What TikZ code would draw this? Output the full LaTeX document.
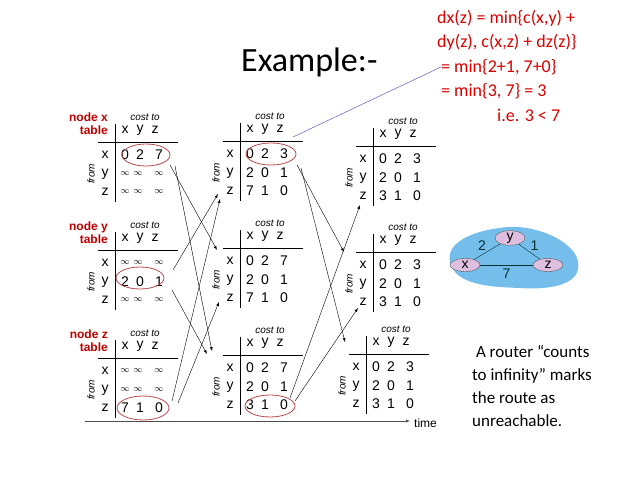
\documentclass[tikz,border=0pt]{standalone}
\usepackage{fontspec}
\usetikzlibrary{shapes.geometric}
\setmainfont{Liberation Sans}
\newfontfamily\calfnt{Carlito}
\begin{document}
\begin{tikzpicture}[x=1pt,y=-1pt,
  lbl/.style={font=\fontsize{14}{14}\selectfont,inner sep=0pt},
  inf/.style={font=\fontsize{9}{9}\selectfont,inner sep=0pt},
  costto/.style={font=\fontsize{10}{10}\selectfont\itshape,inner sep=0pt},
  fromlbl/.style={font=\fontsize{10}{10}\selectfont\itshape,inner sep=0pt,rotate=90},
  nodelbl/.style={font=\fontsize{12}{13}\selectfont\bfseries,text=red!75!black,align=right,inner sep=0pt,anchor=east},
  hl/.style={draw=red!60!black!70,thick},
  arr/.style={-latex,thin},
  red text/.style={font=\calfnt\fontsize{18}{18}\selectfont,text=red!85!black,inner sep=0pt,anchor=west},
  router/.style={ellipse,draw=gray!70!black,fill=violet!25,minimum width=30pt,minimum height=13pt,inner sep=0pt,font=\fontsize{14}{14}\selectfont},
]
\useasboundingbox (0,0) rectangle (638,478);
\newcommand{\tbl}[5]{%
  \begin{scope}[shift={(#1,#2)}]
    \node[costto] at (30,-3) {cost to};
    \node[lbl] at (10,10) {x}; \node[lbl] at (25,10) {y}; \node[lbl] at (40,10) {z};
    \draw (-17,22) -- (63,22); \draw (0,4) -- (0,82);
    \node[lbl] at (-10,35) {x}; \node[lbl] at (-10,54) {y}; \node[lbl] at (-10,72) {z};
    \node[fromlbl] at (-24,54) {from};
    #3 #4 #5
  \end{scope}}
\newcommand{\vals}[5]{\node[#5] at (10,#1) {#2}; \node[#5] at (25,#1) {#3}; \node[#5] at (44,#1) {#4};}
\newcommand{\ivals}[1]{\node[inf] at (10,#1) {$\infty$}; \node[inf] at (23,#1) {$\infty$}; \node[inf] at (44,#1) {$\infty$};}

\node[font=\calfnt\fontsize{34}{34}\selectfont,anchor=west,inner sep=0pt] (title) at (241,62) {Example:-};
\node[red text] (r1) at (437,18) {dx(z) = min\{c(x,y) +};
\node[red text] (r2) at (437,42) {dy(z), c(x,z) + dz(z)\}};
\node[red text] (r3) at (441,67) {= min\{2+1, 7+0\}};
\node[red text] (r4) at (441,91) {= min\{3, 7\} = 3};
\node[red text] (r5) at (497,115) {i.e. 3 {<} 7};

\node[nodelbl] (nx) at (108,124) {node x\\table};
\node[nodelbl] (ny) at (108,233) {node y\\table};
\node[nodelbl] (nz) at (108,341) {node z\\table};

% column 1
\tbl{115}{120}{\vals{35}{0}{2}{7}{lbl}}{\ivals{54}}{\ivals{72}}
\tbl{115}{228}{\ivals{35}}{\vals{54}{2}{0}{1}{lbl}}{\ivals{72}}
\tbl{115}{336}{\ivals{35}}{\ivals{54}}{\vals{72}{7}{1}{0}{lbl}}
% column 2
\tbl{240}{119}{\vals{35}{0}{2}{3}{lbl}}{\vals{54}{2}{0}{1}{lbl}}{\vals{72}{7}{1}{0}{lbl}}
\tbl{240}{226}{\vals{35}{0}{2}{7}{lbl}}{\vals{54}{2}{0}{1}{lbl}}{\vals{72}{7}{1}{0}{lbl}}
\tbl{240}{333}{\vals{35}{0}{2}{7}{lbl}}{\vals{54}{2}{0}{1}{lbl}}{\vals{72}{3}{1}{0}{lbl}}
% column 3
\tbl{373}{124}{\vals{35}{0}{2}{3}{lbl}}{\vals{54}{2}{0}{1}{lbl}}{\vals{72}{3}{1}{0}{lbl}}
\tbl{373}{230}{\vals{35}{0}{2}{3}{lbl}}{\vals{54}{2}{0}{1}{lbl}}{\vals{72}{3}{1}{0}{lbl}}
\tbl{366}{332}{\vals{35}{0}{2}{3}{lbl}}{\vals{54}{2}{0}{1}{lbl}}{\vals{72}{3}{1}{0}{lbl}}

% highlight ellipses
\draw[hl] (146,155) ellipse (24 and 11);
\draw[hl] (140,278) ellipse (24 and 11);
\draw[hl] (143,408) ellipse (26 and 12);
\draw[hl] (271,154) ellipse (25 and 11);
\draw[hl] (270,406) ellipse (25 and 11);

% arrows col1 -> col2
\coordinate (a1) at (170,165); \coordinate (a2) at (175,166);
\coordinate (b1) at (173,270); \coordinate (b2) at (172,290);
\coordinate (c1) at (172,401); \coordinate (c2) at (178,403);
\coordinate (t1) at (217,250); \coordinate (t2) at (212,351);
\coordinate (t3) at (218,194); \coordinate (t4) at (207,354);
\coordinate (t5) at (220,199); \coordinate (t6) at (219,302);
\draw[arr] (a1) -- (t1); \draw[arr] (a2) -- (t2);
\draw[arr] (b1) -- (t3); \draw[arr] (b2) -- (t4);
\draw[arr] (c1) -- (t5); \draw[arr] (c2) -- (t6);
% col2 -> col3
\coordinate (d1) at (297,165); \coordinate (d2) at (301,168);
\coordinate (e1) at (290,398); \coordinate (e2) at (295,401);
\coordinate (u1) at (344,252); \coordinate (u2) at (345,342);
\coordinate (u3) at (360,205); \coordinate (u4) at (358,308);
\draw[arr] (d1) -- (u1); \draw[arr] (d2) -- (u2);
\draw[arr] (e1) -- (u3); \draw[arr] (e2) -- (u4);

% blue callout
\coordinate (bl) at (293,137);
\draw[blue!50!gray] (bl) -- (r3.west);

% time axis
\coordinate (ts) at (85,421); \coordinate (te) at (410,421);
\draw[-latex,gray!60!black] (ts) -- (te);
\node[font=\fontsize{12}{12}\selectfont,anchor=west,inner sep=0pt] (time) at (414,423) {time};

% network graph
\fill[cyan!80!blue!55] (450,262) .. controls (445,240) and (480,230) .. (500,228)
  .. controls (530,222) and (575,240) .. (578,262)
  .. controls (582,285) and (550,290) .. (520,288)
  .. controls (490,287) and (455,285) .. (450,262) -- cycle;
\node[router] (ry) at (510,238) {y};
\node[router] (rx) at (465,265) {x};
\node[router] (rz) at (548,265) {z};
\draw[thin,teal!40!black] (rx) -- (ry) node[midway,above left,inner sep=1pt,font=\fontsize{14}{14}\selectfont] {2};
\draw[thin,teal!40!black] (ry) -- (rz) node[midway,above right,inner sep=1pt,font=\fontsize{14}{14}\selectfont] {1};
\draw[thin,teal!40!black] (rx) -- (rz) node[midway,below=4pt,inner sep=0pt,font=\fontsize{14}{14}\selectfont] {7};

\node[font=\calfnt\fontsize{17}{23}\selectfont,align=left,anchor=north west,inner sep=0pt] (note) at (472,345)
  {\ A router “counts\\to infinity” marks\\the route as\\unreachable.};
\end{tikzpicture}
\end{document}
